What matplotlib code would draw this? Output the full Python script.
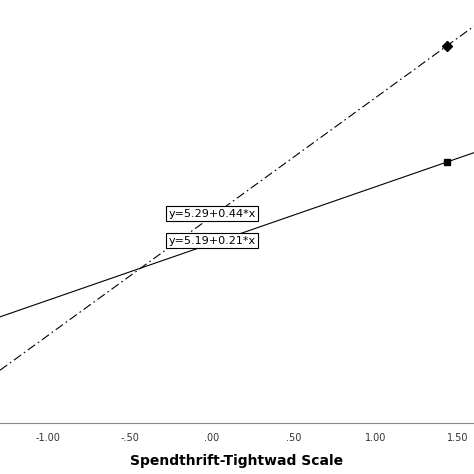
import matplotlib
matplotlib.use("Agg")
import matplotlib.pyplot as plt
import numpy as np

xticks = [-1.0, -0.5, 0.0, 0.5, 1.0, 1.5]
xticklabels = ["-1.00", "-.50", ".00", ".50", "1.00", "1.50"]
x_range = [-1.293, 1.598]
marker_x = 1.433
fit_dash = (5.29, 0.44)
fit_solid = (5.19, 0.21)

fig = plt.figure(figsize=(4.74, 4.74), dpi=100)
ax = fig.add_axes([0, 51 / 474, 1, 423 / 474])

xs = np.array(x_range)
ax.plot(xs, fit_dash[0] + fit_dash[1] * xs, color="black", lw=0.8, ls=(0, (8, 3, 1.5, 3)))
ax.plot(xs, fit_solid[0] + fit_solid[1] * xs, color="black", lw=0.8)
ax.plot([marker_x], [fit_dash[0] + fit_dash[1] * marker_x], marker="D", color="black", ms=5)
ax.plot([marker_x], [fit_solid[0] + fit_solid[1] * marker_x], marker="s", color="black", ms=5)

box = dict(boxstyle="square,pad=0.2", fc="white", ec="black", lw=0.8)
ax.text(0.0, 5.30, "y=5.29+0.44*x", ha="center", va="center", fontsize=8, bbox=box)
ax.text(0.0, 5.20, "y=5.19+0.21*x", ha="center", va="center", fontsize=8, bbox=box)

ax.set_xlim(x_range)
ax.set_ylim(4.526, 6.09)
ax.set_xticks(xticks)
ax.set_xticklabels(xticklabels, fontsize=7, color="#333333")
ax.tick_params(axis="x", length=0, pad=7)
ax.set_yticks([])
for s in ["top", "left", "right"]:
    ax.spines[s].set_visible(False)
ax.spines["bottom"].set_color("#888888")
ax.set_xlabel("Spendthrift-Tightwad Scale", fontsize=10, fontweight="bold", labelpad=8)

fig.savefig("out.png", dpi=100)
